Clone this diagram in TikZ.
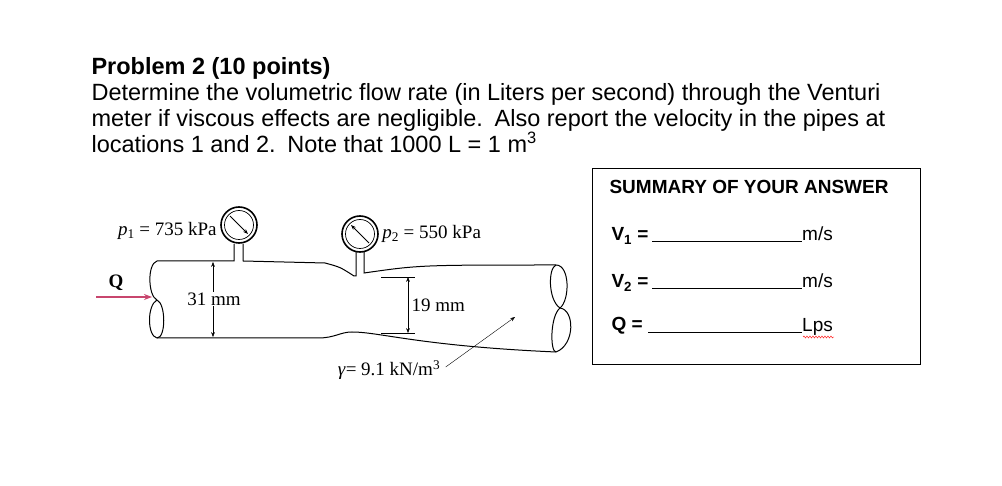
\documentclass[tikz,border=0pt]{standalone}
\usepackage{fontspec}
\setmainfont{Liberation Sans}
\newfontfamily\figfont{Liberation Serif}
\usetikzlibrary{calc,positioning,arrows.meta,decorations.pathmorphing}
\tikzset{
		>=Stealth
	}

\begin{document}
\begin{tikzpicture}[x=1pt, y=-1pt,
					body/.style={anchor=base west, font=\fontsize{23.5}{26}\selectfont},
					fig/.style={font=\figfont\fontsize{19}{21}\selectfont},
					gauge/.style={circle, draw, line width=1.6pt, minimum size=36pt, inner sep=0pt},
					pipe/.style={line width=1pt},
					answer/.style={anchor=base west, font=\fontsize{19}{21}\selectfont}]
	\useasboundingbox (0,0) rectangle (1002,486);
	% problem text
	\node[body, font=\bfseries\fontsize{23.5}{26}\selectfont] (title) at (88,75) {Problem 2 (10 points)};
	\node[body] (line1) at (88,101) {Determine the volumetric flow rate (in Liters per second) through the Venturi};
	\node[body] (line2) at (88,127) {meter if viscous effects are negligible.\enspace Also report the velocity in the pipes at};
	\node[body] (line3) at (88,153) {locations 1 and 2.\enspace Note that 1000 L = 1 m\textsuperscript{3}};
	% pipe
	\draw[pipe] (157,261) -- (234,261) -- (234,244) (243,244) -- (243,261) -- (325,263)
		.. controls (340,267) .. (354,276) -- (356,276) -- (356,252) (364,252) -- (364,273)
		.. controls (420,265) .. (556,265);
	\draw[pipe] (157,338) -- (318,338) .. controls (335,338) and (340,332) .. (352,332)
		.. controls (380,332) and (420,346) .. (556,352);
	\draw[pipe] (556,265) .. controls (570,265) and (570,300) .. (560,308)
		.. controls (550,316) and (550,352) .. (556,352);
	\draw[pipe] (560,308) .. controls (575,310) and (575,345) .. (556,352);
	\draw[pipe] (560,308) .. controls (548,300) and (548,268) .. (556,265);
	\draw[pipe] (157,261) .. controls (147,264) and (148,296) .. (157,300)
		.. controls (166,304) and (166,338) .. (157,338);
	\draw[pipe] (157,300) .. controls (147,305) and (147,336) .. (157,338);
	% gauges
	\node[gauge] (g1) at (239,225) {};
	\node[gauge, line width=0.7pt, minimum size=29pt] (g1in) at (g1) {};
	\draw[-{Stealth[length=5pt]}, line width=0.8pt] ($(g1)+(-9,-9)$) -- ($(g1)+(9,9)$);
	\node[gauge] (g2) at (360,234) {};
	\node[gauge, line width=0.7pt, minimum size=29pt] (g2in) at (g2) {};
	\draw[-{Stealth[length=5pt]}, line width=0.8pt] ($(g2)+(9,9)$) -- ($(g2)+(-9,-9)$);
	\node[fig, left=0pt of g1, yshift=-6pt] (p1) {\textit{p}\textsubscript{1} = 735 kPa};
	\node[fig, right=0pt of g2] (p2) {\textit{p}\textsubscript{2} = 550 kPa};
	% dimensions
	\coordinate (d1t) at (213,262);
	\coordinate (d1b) at (213,337);
	\draw[<->, thin] (d1t) -- (d1b);
	\node[fig, fill=white, inner sep=1pt] (d1) at (214,299) {31 mm};
	\draw[thin] (381,277) -- (415,277) (381,333) -- (415,333);
	\coordinate (d2t) at (408,277);
	\coordinate (d2b) at (408,333);
	\draw[<->, thin] (d2t) -- (d2b);
	\node[fig, right=0pt of d2t, yshift=-28pt] (d2) {19 mm};
	% flow and fluid
	\node[fig, font=\figfont\bfseries\fontsize{19}{21}\selectfont] (q) at (116,283) {Q};
	\coordinate (qs) at (96,297);
	\coordinate (qe) at (152,297);
	\draw[-{Stealth[length=8pt]}, line width=2pt, color={rgb,255:red,200;green,70;blue,110}] (qs) -- (qe);
	\node[fig] (gam) at (389,370) {\textit{γ}= 9.1 kN/m\textsuperscript{3}};
	\coordinate (gp) at (515,317);
	\draw[->, thin] (gam.east) ++(2,-3) -- (gp);
	% summary box
	\draw[thin] (592,168) rectangle (920,364);
	\node[anchor=base west, font=\bfseries\fontsize{19}{21}\selectfont] (sum) at (606,194) {SUMMARY OF YOUR ANSWER};
	\node[answer, font=\bfseries\fontsize{19}{21}\selectfont] (v1) at (608,241) {V\textsubscript{1} =};
	\node[answer, font=\bfseries\fontsize{19}{21}\selectfont] (v2) at (608,288) {V\textsubscript{2} =};
	\node[answer, font=\bfseries\fontsize{19}{21}\selectfont] (qa) at (608,331) {Q =};
	\draw (652,241) -- (802,241) (652,288) -- (802,288) (648,332) -- (802,332);
	\node[answer, inner sep=0pt] (u1) at (802,241) {m/s};
	\node[answer, inner sep=0pt] (u2) at (802,288) {m/s};
	\node[answer, inner sep=0pt] (u3) at (802,332) {Lps};
	\draw[red, decorate, decoration={snake, amplitude=1pt, segment length=3pt}] (803,337) -- (834,337);
\end{tikzpicture}
\end{document}
